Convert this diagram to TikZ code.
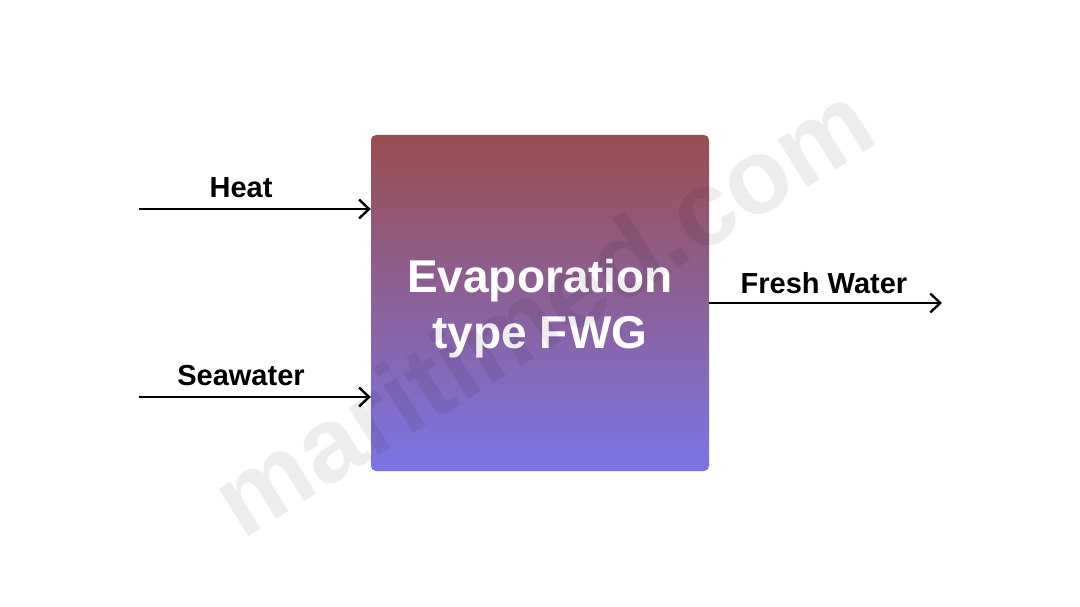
\documentclass[tikz,border=0pt]{standalone}
\usepackage{fontspec}
\setmainfont{Liberation Sans}
\usetikzlibrary{arrows.meta}
\definecolor{boxtop}{HTML}{9A4E4F}
\definecolor{boxbot}{HTML}{7C74E6}
\tikzset{
  arr/.style={line width=2.7pt, -{Straight Barb[length=10pt, width=19pt, line width=2.4pt]}},
  lbl/.style={font=\bfseries\fontsize{29}{32}\selectfont, inner sep=0pt},
  mainbox/.style={minimum width=338pt, minimum height=336pt, inner sep=0pt, rounded corners=5pt, top color=boxtop, bottom color=boxbot, draw=none},
  wm/.style={font=\bfseries\fontsize{106}{110}\selectfont, text=black, opacity=0.07, rotate=32, inner sep=0pt}
}
\begin{document}
\begin{tikzpicture}[x=1pt, y=-1pt]
\useasboundingbox (0,0) rectangle (1080,607);
\node[mainbox] (box) at (540,303) {};
\node[align=center, text=white, font=\bfseries\fontsize{46}{56}\selectfont] (title) at (540,309) {Evaporation\\type FWG};
\coordinate (h0) at (139,209);
\coordinate (s0) at (139,397);
\coordinate (f1) at (942,303);
\draw[arr] (h0) -- (h0 -| box.west);
\draw[arr] (s0) -- (s0 -| box.west);
\draw[arr] (f1 -| box.east) -- (f1);
\node[lbl] (heat) at (241,188) {Heat};
\node[lbl] (sea) at (241,376) {Seawater};
\node[lbl] (fresh) at (824,283) {Fresh Water};
\node[wm] (mark) at (542,309) {maritimed.com};
\end{tikzpicture}
\end{document}
